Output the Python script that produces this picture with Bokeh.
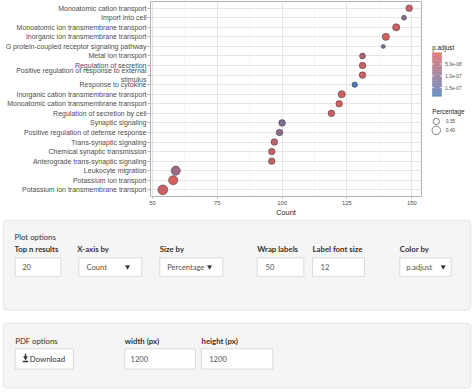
import numpy as np
from bokeh.plotting import figure
from bokeh.models import Range1d, FactorRange, FixedTicker, LinearColorMapper, ColumnDataSource
from bokeh.layouts import column, row
from bokeh.embed import file_html
from bokeh.resources import INLINE
from bokeh.core.properties import value

# ---------------- data ----------------
terms = [
    "Monoatomic cation transport",
    "Import into cell",
    "Monoatomic ion transmembrane transport",
    "Inorganic ion transmembrane transport",
    "G protein-coupled receptor signaling pathway",
    "Metal ion transport",
    "Regulation of secretion",
    "Positive regulation of response to external\nstimulus",
    "Response to cytokine",
    "Inorganic cation transmembrane transport",
    "Monoatomic cation transmembrane transport",
    "Regulation of secretion by cell",
    "Synaptic signaling",
    "Positive regulation of defense response",
    "Trans-synaptic signaling",
    "Chemical synaptic transmission",
    "Anterograde trans-synaptic signaling",
    "Leukocyte migration",
    "Potassium ion transport",
    "Potassium ion transmembrane transport",
]
counts = [149, 147, 144, 140, 139, 131, 131, 131, 128, 123, 122, 119, 100, 99, 97, 96, 96, 59, 58, 54]
percentage = [0.354, 0.333, 0.366, 0.366, 0.330, 0.343, 0.354, 0.354, 0.337, 0.366,
              0.354, 0.354, 0.354, 0.352, 0.354, 0.352, 0.352, 0.424, 0.428, 0.450]
p_adjust = [2.0e-8, 1.0e-7, 1.5e-8, 1.2e-8, 1.15e-7, 6.0e-8, 2.0e-8, 2.0e-8, 1.88e-7, 1.0e-8,
            1.2e-8, 2.5e-8, 1.15e-7, 9.5e-8, 4.0e-8, 3.0e-8, 3.0e-8, 8.0e-8, 1.0e-9, 2.0e-8]

x_ticks = [50, 75, 100, 125, 150]
x_minor = [62.5, 87.5, 112.5, 137.5]
padj_breaks = [5e-8, 1e-7, 1.5e-7]
padj_labels = ["5.0e-08", "1.0e-07", "1.5e-07"]
pct_breaks = [0.35, 0.40]
pct_labels = ["0.35", "0.40"]

# ---------------- scales ----------------
LOW_COL = (217, 95, 90)
HIGH_COL = (72, 120, 184)
palette = []
for t in np.linspace(0, 1, 256):
    c = [int(round(a + (b - a) * t)) for a, b in zip(LOW_COL, HIGH_COL)]
    palette.append("#%02x%02x%02x" % tuple(c))
pmin, pmax = min(p_adjust), max(p_adjust)
mapper = LinearColorMapper(palette=palette, low=pmin, high=pmax)

pc_min, pc_max = min(percentage), max(percentage)
def size_scale(v):
    v = np.asarray(v, dtype=float)
    return 4.0 + 5.8 * np.sqrt(np.clip((v - pc_min) / (pc_max - pc_min), 0, 1))

FONT_NAME = "Liberation Sans"
FONT = value(FONT_NAME)
UI_FONT = value("Lato")

# ---------------- main plot ----------------
W_MAIN, H_TOP = 424, 219
x_lo, x_hi = min(counts), max(counts)
pad = (x_hi - x_lo) * 0.05
p = figure(width=W_MAIN, height=H_TOP, output_backend="svg", toolbar_location=None, title=None,
           x_range=Range1d(x_lo - pad, x_hi + pad),
           y_range=FactorRange(factors=list(reversed(terms)), range_padding=0.2,
                               range_padding_units="absolute"),
           min_border_left=150, min_border_right=3, min_border_top=1, min_border_bottom=21)
p.outline_line_color = "#b3b3b3"
p.outline_line_width = 1
p.background_fill_color = "white"
p.border_fill_color = "white"

src = ColumnDataSource(dict(term=terms, count=counts, pct=percentage, padj=p_adjust,
                            size=size_scale(percentage)))
p.scatter(x="count", y="term", size="size", source=src,
          fill_color={"field": "padj", "transform": mapper},
          line_color="#333333", line_width=0.5)

p.xaxis.ticker = FixedTicker(ticks=x_ticks, minor_ticks=x_minor)
p.xgrid.grid_line_color = "#e3e3e3"
p.xgrid.grid_line_width = 0.9
p.xgrid.minor_grid_line_color = "#f1f1f1"
p.xgrid.minor_grid_line_width = 0.6
p.ygrid.grid_line_color = "#e3e3e3"
p.ygrid.grid_line_width = 0.9

for ax in (p.xaxis[0], p.yaxis[0]):
    ax.axis_line_color = None
    ax.major_tick_line_color = "#b3b3b3"
    ax.major_tick_in = 0
    ax.major_tick_out = 3
    ax.minor_tick_line_color = None
    ax.major_label_text_color = "#4d4d4d"
    ax.major_label_text_font = FONT_NAME

p.xaxis.major_tick_out = 2
p.xaxis.major_label_text_font_size = "5.8px"
p.xaxis.major_label_standoff = 0
p.xaxis.axis_label = "Count"
p.xaxis.axis_label_text_font = FONT_NAME
p.xaxis.axis_label_text_font_size = "7.3px"
p.xaxis.axis_label_text_font_style = "normal"
p.xaxis.axis_label_text_color = "#1a1a1a"
p.xaxis.axis_label_standoff = 0

p.yaxis.major_label_text_font_size = "7px"
p.yaxis.major_label_standoff = 1

# ---------------- legends ----------------
leg = figure(width=474 - W_MAIN, height=H_TOP, output_backend="svg", toolbar_location=None,
             title=None, x_range=Range1d(W_MAIN, 474), y_range=Range1d(H_TOP, 0),
             min_border=0, x_axis_type=None, y_axis_type=None)
leg.outline_line_color = None
leg.grid.visible = False
leg.background_fill_color = "white"
leg.border_fill_color = "white"

# colour bar
cb_x0, cb_x1, cb_top, cb_h = 431.7, 441.3, 57.3, 49.4
n = 60
edges = np.linspace(pmin, pmax, n + 1)
def cb_y(v):
    return cb_top + (np.asarray(v) - pmin) / (pmax - pmin) * cb_h
cb_src = ColumnDataSource(dict(mid=(edges[:-1] + edges[1:]) / 2,
                               top=cb_y(edges[:-1]), bottom=cb_y(edges[1:])))
leg.quad(left=cb_x0, right=cb_x1, top="top", bottom="bottom",
         fill_color={"field": "mid", "transform": mapper}, line_color=None, source=cb_src)
ty = cb_y(padj_breaks)
tw = (cb_x1 - cb_x0) / 5
leg.segment(x0=[cb_x0] * 3, x1=[cb_x0 + tw] * 3, y0=ty, y1=ty, line_color="white", line_width=0.8)
leg.segment(x0=[cb_x1 - tw] * 3, x1=[cb_x1] * 3, y0=ty, y1=ty, line_color="white", line_width=0.8)
leg.text(x=[cb_x1 + 3.5] * 3, y=ty, text=padj_labels, text_font=FONT, text_font_size="4.8px",
         text_color="#4d4d4d", text_baseline="middle")
leg.text(x=[cb_x0], y=[52], text=["p.adjust"], text_font=FONT, text_font_size="6.3px",
         text_color="#1a1a1a", text_baseline="middle")

# size legend
leg.text(x=[cb_x0], y=[124], text=["Percentage"], text_font=FONT, text_font_size="6.3px",
         text_color="#1a1a1a", text_baseline="middle")
ky = [134.7, 144.7]
leg.scatter(x=[435.8] * 2, y=ky, size=size_scale(pct_breaks), fill_color="white",
            line_color="#333333", line_width=0.6)
leg.text(x=[445.2] * 2, y=ky, text=pct_labels, text_font=FONT, text_font_size="4.8px",
         text_color="#4d4d4d", text_baseline="middle")

# ---------------- UI panels ----------------
ui = figure(width=474, height=392 - H_TOP, output_backend="svg", toolbar_location=None,
            title=None, x_range=Range1d(0, 474), y_range=Range1d(392, H_TOP),
            min_border=0, x_axis_type=None, y_axis_type=None)
ui.outline_line_color = None
ui.grid.visible = False
ui.background_fill_color = "white"
ui.border_fill_color = "white"

# well panels
ui.quad(left=[2.7, 2.7], right=[470.3, 470.3], top=[219.5, 322.7], bottom=[309.6, 387.5],
        fill_color="#f5f5f5", line_color="#e3e3e3", line_width=1, border_radius=4)

# input boxes
box_l = [14.7, 78.3, 159.3, 256.7, 312.0, 399.3]
box_r = [60.3, 141.3, 222.3, 303.3, 364.0, 450.7]
ui.quad(left=box_l, right=box_r, top=[257.3] * 6, bottom=[275.9] * 6,
        fill_color="white", line_color="#dadada", line_width=1)
ui.quad(left=[14.7, 124.3, 201.0], right=[73.0, 195.0, 272.3], top=[348.3] * 3,
        bottom=[368.5] * 3, fill_color="white", line_color="#dadada", line_width=1)

ui.text(x=[14.0], y=[236.8], text=["Plot options"], text_font=UI_FONT,
        text_font_size="7.8px", text_color="#333333", text_baseline="middle")
ui.text(x=[14.0, 76.7, 159.3, 256.7, 312.0, 399.3], y=[248.4] * 6,
        text=["Top n results", "X-axis by", "Size by", "Wrap labels", "Label font size", "Color by"],
        text_font=UI_FONT, text_font_size="7.8px", text_font_style="bold",
        text_color="#333333", text_baseline="middle")
ui.text(x=[21.7, 86.0, 166.7, 265.0, 320.0, 405.7], y=[266.8] * 6,
        text=["20", "Count", "Percentage", "50", "12", "p.adjust"],
        text_font=UI_FONT, text_font_size="7.6px", text_color="#555555", text_baseline="middle")
ui.scatter(x=[127.0, 209.0, 442.7], y=[266.3] * 3, marker="inverted_triangle", size=4.5,
           fill_color="#333333", line_color="#333333", line_width=0.3)

ui.text(x=[14.7], y=[340.0], text=["PDF options"], text_font=UI_FONT,
        text_font_size="7.8px", text_color="#333333", text_baseline="middle")
ui.text(x=[124.3, 201.0], y=[340.0] * 2, text=["width (px)", "height (px)"],
        text_font=UI_FONT, text_font_size="7.8px", text_font_style="bold",
        text_color="#333333", text_baseline="middle")
ui.text(x=[130.0, 208.7], y=[358.6] * 2, text=["1200", "1200"], text_font=UI_FONT,
        text_font_size="7.6px", text_color="#555555", text_baseline="middle")
ui.text(x=[29.3], y=[358.6], text=["Download"], text_font=UI_FONT,
        text_font_size="7.8px", text_color="#333333", text_baseline="middle")
# download icon
ui.segment(x0=[25.0], x1=[25.0], y0=[353.2], y1=[357.0], line_color="#333333", line_width=1.4)
ui.scatter(x=[25.0], y=[357.3], marker="inverted_triangle", size=4.2,
           fill_color="#333333", line_color="#333333", line_width=0.3)
ui.segment(x0=[22.3], x1=[27.7], y0=[361.0], y1=[361.0], line_color="#333333", line_width=1.3)

layout = column(row(p, leg, spacing=0), ui, spacing=0)
open("out.html", "w").write(file_html(layout, INLINE))
